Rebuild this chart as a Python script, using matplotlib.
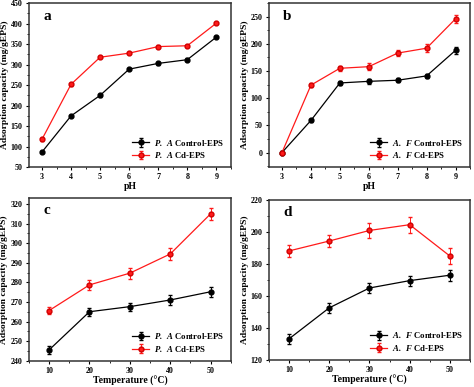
import matplotlib
matplotlib.use('Agg')
import matplotlib.pyplot as plt
from matplotlib.ticker import AutoMinorLocator

plt.rcParams['font.family'] = 'Liberation Serif'
plt.rcParams['font.weight'] = 'bold'
plt.rcParams['mathtext.fontset'] = 'custom'
plt.rcParams['mathtext.rm'] = 'Liberation Serif:bold'
plt.rcParams['mathtext.bfit'] = 'Liberation Serif:italic:bold'

# 数据
ph = [3, 4, 5, 6, 7, 8, 9]
pa_ctrl_ph = [87, 175, 225, 289, 303, 312, 367]
pa_cd_ph = [118, 252, 318, 328, 344, 346, 401]
pa_ctrl_ph_err = [3, 3, 3, 3, 3, 3, 3]
pa_cd_ph_err = [3, 3, 3, 3, 3, 3, 3]

af_ctrl_ph = [0, 59, 128, 131, 133, 141, 188]
af_cd_ph = [0, 124, 155, 158, 183, 192, 246]
af_ctrl_ph_err = [2, 3, 4, 4, 4, 4, 6]
af_cd_ph_err = [2, 4, 5, 6, 6, 7, 7]

temp = [10, 20, 30, 40, 50]
pa_ctrl_t = [245.5, 265.0, 267.6, 271.0, 275.2]
pa_cd_t = [265.6, 278.7, 284.7, 294.5, 315.0]
pa_ctrl_t_err = [2.0, 2.0, 2.0, 2.5, 2.5]
pa_cd_t_err = [2.0, 2.5, 2.8, 3.0, 3.0]

af_ctrl_t = [133.2, 152.6, 165.0, 169.6, 173.0]
af_cd_t = [188.2, 194.4, 201.0, 204.6, 185.0]
af_ctrl_t_err = [3.0, 3.0, 3.2, 3.2, 3.5]
af_cd_t_err = [4.0, 4.0, 4.5, 5.0, 5.0]

fig = plt.figure(figsize=(4.74, 3.87), dpi=100)

panels = [
    ([0.061, 0.568, 0.426, 0.424], 'a', ph, pa_ctrl_ph, pa_ctrl_ph_err, pa_cd_ph, pa_cd_ph_err,
     'P.\\ A', 'pH', (2.55, 9.5), (50, 450), range(50, 451, 50), ph),
    ([0.5675, 0.568, 0.424, 0.424], 'b', ph, af_ctrl_ph, af_ctrl_ph_err, af_cd_ph, af_cd_ph_err,
     'A.\\ F', 'pH', (2.55, 9.5), (-27, 275), range(0, 251, 50), ph),
    ([0.061, 0.068, 0.426, 0.420], 'c', temp, pa_ctrl_t, pa_ctrl_t_err, pa_cd_t, pa_cd_t_err,
     'P.\\ A', 'Temperature (°C)', (5, 55), (240, 323), range(240, 321, 10), temp),
    ([0.5675, 0.070, 0.424, 0.413], 'd', temp, af_ctrl_t, af_ctrl_t_err, af_cd_t, af_cd_t_err,
     'A.\\ F', 'Temperature (°C)', (5, 55), (120, 220), range(120, 221, 20), temp),
]

for pos, letter, x, c, ce, d, de, sp, xlab, xl, yl, yt, xt in panels:
    ax = fig.add_axes(pos)
    ax.errorbar(x, c, yerr=ce, color='black', marker='o', ms=3.5, lw=0.9,
                elinewidth=0.7, capsize=1.5, label=r'$\mathbfit{%s}$ Control-EPS' % sp)
    ax.errorbar(x, d, yerr=de, color='#ff1a1a', marker='o', ms=3.5, lw=0.9,
                mec='#d00000', elinewidth=0.7, capsize=1.5, label=r'$\mathbfit{%s}$ Cd-EPS' % sp)
    ax.set_xlim(xl)
    ax.set_ylim(yl)
    ax.set_xticks(xt)
    ax.set_yticks(list(yt))
    ax.xaxis.set_minor_locator(AutoMinorLocator(2))
    ax.yaxis.set_minor_locator(AutoMinorLocator(2))
    ax.tick_params(labelsize=5.8, length=2.5, width=0.8, pad=2)
    ax.tick_params(which='minor', length=1.5, width=0.6)
    for s in ax.spines.values():
        s.set_linewidth(1.1)
        s.set_color('#333333')
    ax.set_xlabel(xlab, fontsize=7, fontweight='bold', labelpad=0.5)
    ax.set_ylabel('Adsorption capacity (mg/gEPS)', fontsize=6.8, fontweight='bold', labelpad=1.5)
    ax.text(0.07, 0.9, letter, transform=ax.transAxes, fontsize=11, fontweight='bold')
    ax.legend(loc='lower right', frameon=False, fontsize=6.3, handlelength=2.0,
              handletextpad=0.5, borderaxespad=0.4, labelspacing=0.3)

plt.savefig('out.png', dpi=100)
